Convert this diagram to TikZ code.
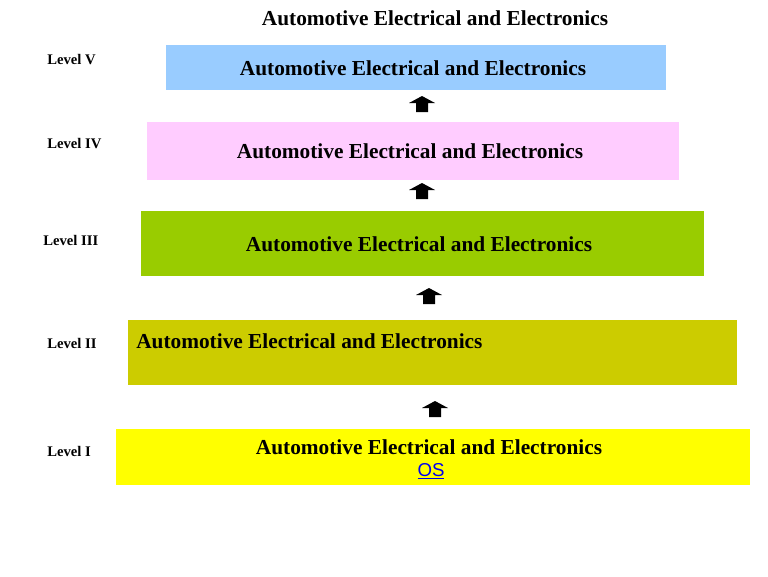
\documentclass[tikz,border=0pt]{standalone}
\usepackage{fontspec}
\setmainfont{Liberation Serif}
\newfontfamily\linkfont{Liberation Sans}
\usepackage{tikz}
\definecolor{skyblue}{HTML}{99CCFF}
\definecolor{pinkish}{HTML}{FFCCFF}
\definecolor{limegreen}{HTML}{99CC00}
\definecolor{olivey}{HTML}{CCCC00}
\definecolor{brightyellow}{HTML}{FFFF00}
\definecolor{linkblue}{HTML}{0000EE}
\tikzset{lvl/.style={anchor=west,inner sep=0pt,font=\fontsize{11}{13}\selectfont\bfseries},
boxtext/.style={inner sep=0pt,font=\fontsize{16}{19}\selectfont\bfseries}}
\newcommand{\uparrowblock}[1]{\fill (#1) -- ++(13,7) -- ++(-7,0) -- ++(0,9) -- ++(-12,0) -- ++(0,-9) -- ++(-7,0) -- cycle;}
\begin{document}
\begin{tikzpicture}[x=0.75pt,y=-0.75pt]
\useasboundingbox (0,0) rectangle (768,576);
\coordinate (V1) at (166,45);
\coordinate (V2) at (666,90);
\coordinate (IV1) at (147,122);
\coordinate (IV2) at (679,180);
\coordinate (III1) at (141,211);
\coordinate (III2) at (704,276);
\coordinate (II1) at (128,320);
\coordinate (II2) at (737,385);
\coordinate (I1) at (116,429);
\coordinate (I2) at (750,485);
\fill[skyblue] (V1) rectangle (V2);
\fill[pinkish] (IV1) rectangle (IV2);
\fill[limegreen] (III1) rectangle (III2);
\fill[olivey] (II1) rectangle (II2);
\fill[brightyellow] (I1) rectangle (I2);
\node[boxtext] (title) at (435,18) {Automotive Electrical and Electronics};
\node[boxtext] (textV) at (413,68) {Automotive Electrical and Electronics};
\node[boxtext] (textIV) at (410,151) {Automotive Electrical and Electronics};
\node[boxtext] (textIII) at (419,244) {Automotive Electrical and Electronics};
\node[boxtext,anchor=west] (textII) at (136,341) {Automotive Electrical and Electronics};
\node[boxtext] (textI) at (429,447) {Automotive Electrical and Electronics};
\node[inner sep=0pt,text=linkblue,font=\fontsize{14}{16}\selectfont\linkfont] (os) at (431,471) {\underline{OS}};
\node[lvl] (lvV) at (47,60) {Level V};
\node[lvl] (lvIV) at (47,144) {Level IV};
\node[lvl] (lvIII) at (43,240) {Level III};
\node[lvl] (lvII) at (47,343) {Level II};
\node[lvl] (lvI) at (47,451) {Level I};
\coordinate (a4) at (422,96);
\coordinate (a3) at (422,183);
\coordinate (a2) at (429,288);
\coordinate (a1) at (435,401);
\uparrowblock{a4}
\uparrowblock{a3}
\uparrowblock{a2}
\uparrowblock{a1}
\end{tikzpicture}
\end{document}
